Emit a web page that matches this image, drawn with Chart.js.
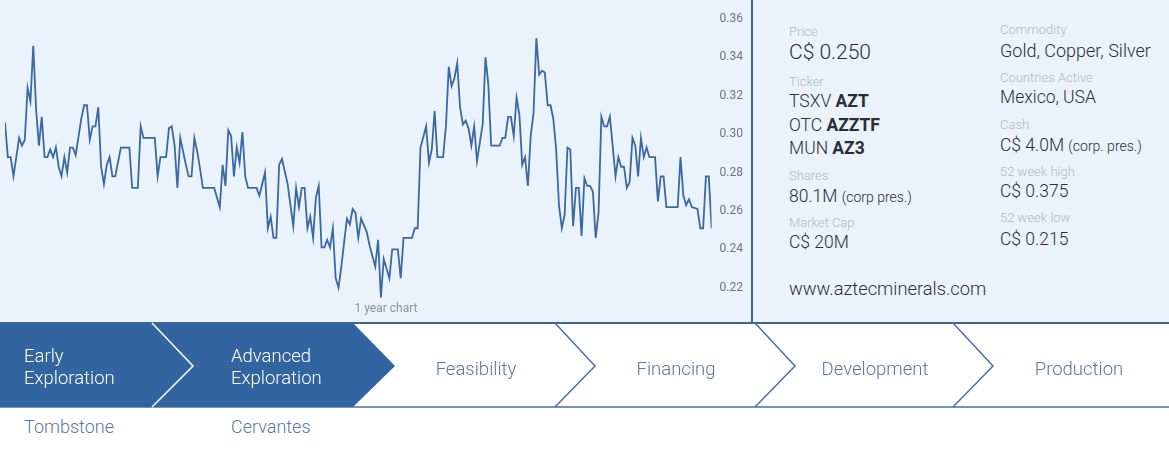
<!DOCTYPE html>
<html>
<head>
<meta charset="utf-8">
<script src="https://cdn.jsdelivr.net/npm/chart.js@4.4.1/dist/chart.umd.min.js"></script>
<style>
  body { margin: 0; width: 1169px; height: 450px; background: #fff; font-family: Roboto, 'Noto Sans', sans-serif; overflow: hidden; position: relative; }
  #top { position: absolute; left: 0; top: 0; width: 1169px; height: 323px; background: #eaf2fc; }
  #chartWrap { position: absolute; left: 0; top: 0; width: 752px; height: 323px; overflow: hidden; }
  #priceChart { position: absolute; left: 0; top: -6px; }
  #divider { position: absolute; left: 751px; top: 0; width: 2px; height: 323px; background: #3d6598; }
  #caption { position: absolute; left: 336px; width: 100px; top: 301px; text-align: center; font-size: 12px; color: #8d939b; }
  .lbl { position: absolute; font-size: 13px; font-weight: 300; color: #b3b8bf; white-space: nowrap; }
  .val { position: absolute; font-size: 17.5px; font-weight: 300; color: #2b2f33; white-space: nowrap; }
  .val b { font-weight: 700; }
  .val small { font-size: 14px; }
  .big { font-size: 21px; }
  .stage { position: absolute; font-size: 18.5px; font-weight: 300; white-space: nowrap; line-height: 22px; }
  .on { color: #fff; }
  .off { color: #58779f; text-align: center; }
  .proj { position: absolute; top: 416px; font-size: 18px; font-weight: 300; color: #58779f; }
</style>
</head>
<body>
<div id="top"></div>
<div id="chartWrap"><canvas id="priceChart" width="752" height="332"></canvas></div>
<div id="divider"></div>
<div id="caption">1 year chart</div>

<div class="lbl" style="left:789px;top:24px">Price</div>
<div class="val big" style="left:789px;top:40px">C$ 0.250</div>
<div class="lbl" style="left:789px;top:74px">Ticker</div>
<div class="val" style="left:789px;top:91px">TSXV <b>AZT</b></div>
<div class="val" style="left:789px;top:115px">OTC <b>AZZTF</b></div>
<div class="val" style="left:789px;top:138px">MUN <b>AZ3</b></div>
<div class="lbl" style="left:789px;top:168px">Shares</div>
<div class="val" style="left:789px;top:186px">80.1M <small>(corp pres.)</small></div>
<div class="lbl" style="left:789px;top:215px">Market Cap</div>
<div class="val" style="left:789px;top:232px">C$ 20M</div>
<div class="val" style="left:789px;top:278px;font-size:18.3px">www.aztecminerals.com</div>

<div class="lbl" style="left:1000px;top:22px">Commodity</div>
<div class="val" style="left:1000px;top:40px;font-size:18px">Gold, Copper, Silver</div>
<div class="lbl" style="left:1000px;top:70px">Countries Active</div>
<div class="val" style="left:1000px;top:87px">Mexico, USA</div>
<div class="lbl" style="left:1000px;top:117px">Cash</div>
<div class="val" style="left:1000px;top:135px">C$ 4.0M <small>(corp. pres.)</small></div>
<div class="lbl" style="left:1000px;top:164px">52 week high</div>
<div class="val" style="left:1000px;top:181px">C$ 0.375</div>
<div class="lbl" style="left:1000px;top:210px">52 week low</div>
<div class="val" style="left:1000px;top:229px">C$ 0.215</div>

<svg style="position:absolute;left:0;top:322px" width="1169" height="90">
  <line x1="0" y1="1" x2="1169" y2="1" stroke="#3d6598" stroke-width="2"/>
  <line x1="0" y1="85" x2="1169" y2="85" stroke="#4a6fa5" stroke-width="1.5"/>
  <polygon points="0,1 353,1 395,44 353,85 0,85" fill="#3265a0"/>
  <polyline points="152,1 193,44 152,85" fill="none" stroke="#fff" stroke-width="1.5"/>
  <polyline points="555,1 595,44 555,85" fill="none" stroke="#4a6fa5" stroke-width="1.5"/>
  <polyline points="755,1 795,44 755,85" fill="none" stroke="#4a6fa5" stroke-width="1.5"/>
  <polyline points="953,1 993,44 953,85" fill="none" stroke="#4a6fa5" stroke-width="1.5"/>
</svg>

<div class="stage on" style="left:24px;top:345px">Early<br>Exploration</div>
<div class="stage on" style="left:231px;top:345px">Advanced<br>Exploration</div>
<div class="stage off" style="left:396px;width:160px;top:358px">Feasibility</div>
<div class="stage off" style="left:596px;width:160px;top:358px">Financing</div>
<div class="stage off" style="left:795px;width:160px;top:358px">Development</div>
<div class="stage off" style="left:999px;width:160px;top:358px">Production</div>
<div class="proj" style="left:24px">Tombstone</div>
<div class="proj" style="left:231px">Cervantes</div>

<script>
// trading day index (0 = one year ago) and closing price in C$
const tradingDays = [0,1,2,3,5,6,7,8,9,10,
  11,12,13,14,15,16,17,18,19,20,
  21,22,23,24,25,27,28,29,30,31,
  32,33,34,35,36,37,38,39,41,44,
  45,47,48,49,53,54,55,57,58,59,
  60,61,62,64,65,66,67,68,69,70,
  74,76,77,78,79,80,81,82,83,84,
  85,86,89,90,92,93,94,95,96,97,
  98,100,102,103,104,105,106,107,108,109,
  110,111,112,113,114,115,116,117,118,119,
  120,121,122,123,124,125,126,128,129,131,
  132,133,134,136,137,139,140,141,144,145,
  146,147,149,150,151,152,153,155,156,157,
  158,159,160,161,162,163,164,165,166,167,
  169,170,171,172,175,176,177,178,179,180,
  181,182,183,184,185,186,187,188,189,190,
  191,192,193,194,195,196,197,198,199,200,
  201,202,203,204,205,206,207,208,209,210,
  211,212,213,214,215,216,217,218,219,220,
  221,222,223,224,225,226,227,228,230,231,
  232,233,234,238,239,240,241,242,243,245,
  246,247,248,249,250]

const closePrices = [.306,.288,.288,.278,.298,.294,.297,.324,.317,.346,
  .313,.294,.309,.288,.288,.292,.288,.293,.283,.278,
  .288,.280,.293,.293,.289,.308,.315,.315,.297,.304,
  .304,.314,.283,.274,.284,.288,.278,.278,.293,.293,
  .272,.272,.304,.298,.298,.278,.288,.288,.303,.304,
  .294,.272,.298,.284,.278,.278,.298,.291,.282,.272,
  .272,.262,.284,.273,.302,.299,.278,.293,.285,.301,
  .278,.272,.272,.268,.280,.251,.257,.246,.246,.284,
  .287,.274,.252,.272,.262,.272,.272,.251,.257,.246,
  .267,.273,.241,.241,.245,.241,.251,.225,.220,.231,
  .244,.256,.253,.261,.259,.246,.256,.249,.242,.231,
  .245,.215,.235,.225,.240,.240,.225,.246,.246,.251,
  .251,.293,.304,.285,.292,.312,.288,.288,.304,.335,
  .325,.329,.337,.314,.305,.307,.303,.294,.304,.286,
  .305,.340,.326,.294,.294,.298,.298,.309,.309,.299,
  .319,.310,.284,.288,.273,.299,.311,.350,.331,.333,
  .332,.315,.315,.308,.292,.263,.251,.258,.293,.292,
  .252,.272,.272,.247,.277,.273,.273,.270,.246,.259,
  .309,.304,.304,.309,.294,.278,.288,.283,.283,.272,
  .275,.298,.294,.278,.298,.288,.293,.288,.288,.265,
  .278,.278,.262,.262,.288,.268,.263,.266,.262,.261,
  .251,.251,.278,.278,.251]

const priceTicks = [0.22, 0.24, 0.26, 0.28, 0.30, 0.32, 0.34, 0.36]

const points = tradingDays.map((d, i) => ({ x: d, y: closePrices[i] }))

new Chart(document.getElementById('priceChart'), {
  type: 'line',
  data: {
    datasets: [{
      data: points,
      borderColor: '#3b68a2',
      borderWidth: 1.8,
      pointRadius: 0,
      tension: 0
    }]
  },
  options: {
    responsive: false,
    animation: false,
    layout: { padding: { left: 5, right: 1, top: 0, bottom: 19 } },
    plugins: { legend: { display: false }, tooltip: { enabled: false } },
    scales: {
      x: { type: 'linear', min: 0, max: 250, display: false },
      y: {
        position: 'right',
        min: 0.21,
        max: 0.365,
        border: { display: false },
        grid: { display: false, drawTicks: false },
        afterBuildTicks: (axis) => { axis.ticks = priceTicks.map(v => ({ value: v })) },
        ticks: {
          padding: 8,
          color: '#6f747b',
          font: { family: 'Roboto', size: 12 },
          callback: (v) => v.toFixed(2)
        }
      }
    }
  }
})
</script>
</body>
</html>
